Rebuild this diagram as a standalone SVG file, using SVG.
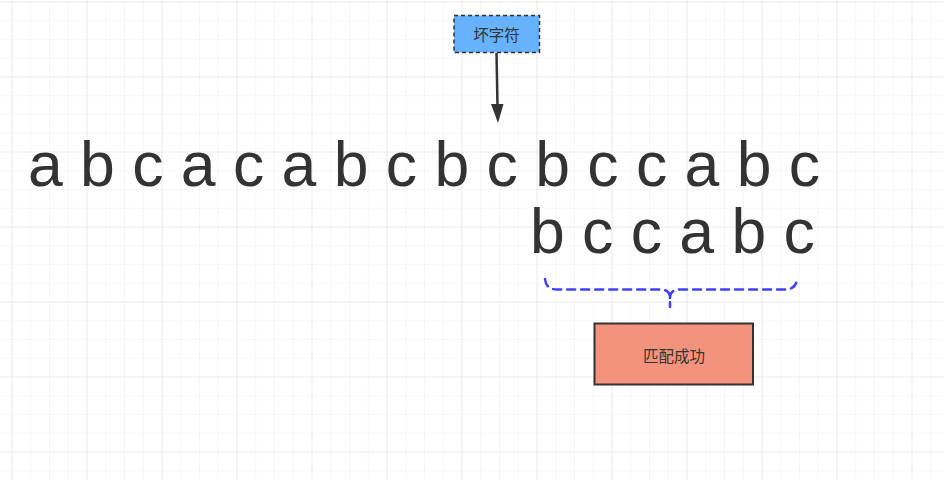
<svg xmlns="http://www.w3.org/2000/svg" width="944" height="480" viewBox="0 0 944 480">
  <defs>
    <pattern id="minor" x="11.5" y="1.5" width="18.75" height="18.75" patternUnits="userSpaceOnUse">
      <path d="M0,0 H18.75 M0,0 V18.75" fill="none" stroke="#f0f0f0" stroke-width="1.2"/>
    </pattern>
    <pattern id="major" x="11.5" y="1.5" width="75" height="75" patternUnits="userSpaceOnUse">
      <path d="M0,0 H75 M0,0 V75" fill="none" stroke="#e2e2e2" stroke-width="1.2"/>
    </pattern>
    <style>
      .big { font-family: "Liberation Sans", Arial, sans-serif; font-size: 62.5px; fill: #333333; }
      .lbl { font-family: "Noto Sans CJK SC", "Noto Sans", sans-serif; font-size: 15.5px; fill: #333333; }
      .brace { fill: none; stroke: #4040f5; stroke-width: 2.5; stroke-dasharray: 8 6; stroke-linecap: round; }
    </style>
  </defs>
  <rect width="944" height="480" fill="#ffffff"/>
  <rect width="944" height="480" fill="url(#minor)"/>
  <rect width="944" height="480" fill="url(#major)"/>

  <g id="connectors">
    <line x1="496.5" y1="53" x2="497.5" y2="106" stroke="#333333" stroke-width="2.5"/>
    <path d="M491,104 L503.5,104 L498,123 Z" fill="#333333"/>
  </g>

  <g id="bad-char">
    <rect x="454" y="15.5" width="85.5" height="37" fill="#66b2ff" stroke="#333333" stroke-width="1.5" stroke-dasharray="4 3"/>
    <text class="lbl" x="496.5" y="34" text-anchor="middle" dominant-baseline="central">坏字符</text>
  </g>

  <g id="text-main">
    <text class="big" x="28" y="186">a b c a c a b c b c b c c a b c</text>
  </g>

  <g id="pattern">
    <text class="big" x="530" y="253">b c c a b c</text>
  </g>

  <g id="brace">
    <path class="brace" d="M545,279 Q546,289.5 557,289.5 L660,289.5 Q670,289.5 670,298 L670,307 M670,298 Q670,289.5 680,289.5 L785,289.5 Q796,289.5 797,279"/>
  </g>

  <g id="match-ok">
    <rect x="594.5" y="323.5" width="158.5" height="61" fill="#f4937b" stroke="#333333" stroke-width="2"/>
    <text class="lbl" x="674" y="355" text-anchor="middle" dominant-baseline="central">匹配成功</text>
  </g>
</svg>
